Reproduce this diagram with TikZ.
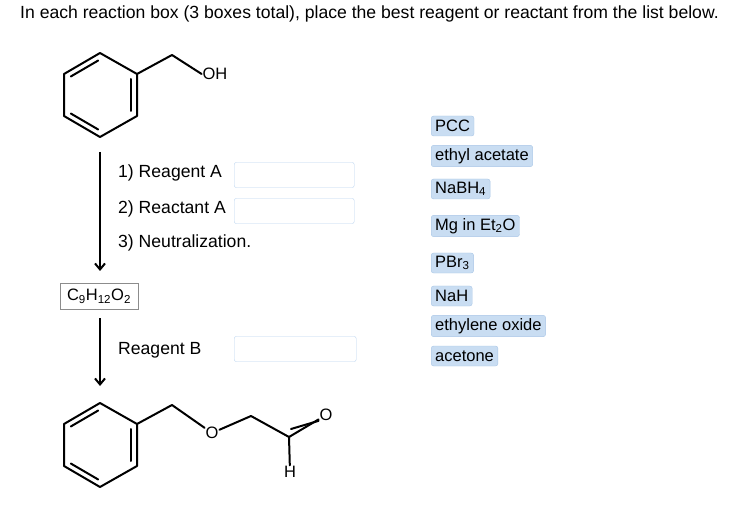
\documentclass[tikz,border=0pt]{standalone}
\usepackage{fontspec}
\setmainfont{Liberation Sans}
\usetikzlibrary{calc,arrows.meta}
\definecolor{chipfill}{HTML}{C9DDF2}
\definecolor{chipdraw}{HTML}{A9C6E6}
\definecolor{inbox}{HTML}{B9D3EE}
\newcommand{\sbs}[1]{\textsubscript{#1}}
\begin{document}
\begin{tikzpicture}[x=1pt,y=-1pt,
  txt/.style={anchor=west,inner sep=0,font=\fontsize{17.6}{20}\selectfont},
  chip/.style={anchor=west,fill=chipfill,draw=chipdraw,rounded corners=2.5,inner xsep=4,inner ysep=3,minimum height=20,font=\fontsize{16.5}{18}\selectfont},
  inp/.style={draw=inbox,rounded corners=2,minimum width=120,minimum height=25,anchor=west,inner sep=0},
  bond/.style={line width=2pt,line cap=round,line join=round},
  rxn/.style={line width=2pt,-{Straight Barb[length=6pt,width=10pt]}},
  atom/.style={inner sep=0.8,fill=white,font=\fontsize{16.5}{18}\selectfont}]
\useasboundingbox (0,0) rectangle (738,510);
\node[txt] (title) at (20,14) {In each reaction box (3 boxes total), place the best reagent or reactant from the list below.};
% top molecule
\coordinate (a1) at (100,53); \coordinate (a2) at (137,74); \coordinate (a3) at (137,116);
\coordinate (a4) at (100,137); \coordinate (a5) at (64,116); \coordinate (a6) at (64,74);
\draw[bond] (a1)--(a2)--(a3)--(a4)--(a5)--(a6)--cycle;
\draw[bond] ($(a6)!0.12!(a1)+(2.5,5)$)--($(a6)!0.88!(a1)+(2.5,5)$);
\draw[bond] (131,79)--(131,111);
\draw[bond] ($(a5)!0.12!(a4)+(2.5,-5)$)--($(a5)!0.88!(a4)+(2.5,-5)$);
\coordinate (c1) at (172,55);
\node[atom] (oh) at (215,74) {OH};
\draw[bond] (a2)--(c1)--(oh.west);
% arrows
\coordinate (s1) at (100,152); \coordinate (e1) at (100,271);
\draw[rxn] (s1)--(e1);
\node[draw=black!45,minimum width=78,minimum height=26,inner sep=0,font=\fontsize{16.5}{18}\selectfont] (f) at (99,296) {C\sbs{9}H\sbs{12}O\sbs{2}};
\coordinate (s2) at (100,318); \coordinate (e2) at (100,386);
\draw[rxn] (s2)--(e2);
\node[txt] (l1) at (118,173) {1) Reagent A};
\node[txt] (l2) at (118,209) {2) Reactant A};
\node[txt] (l3) at (118,243) {3) Neutralization.};
\node[txt] (l4) at (118,350) {Reagent B};
\node[inp] (b1) at (234,175) {};
\node[inp] (b2) at (234,211) {};
\node[inp,minimum width=122] (b3) at (234,349) {};
% chips
\node[chip] (p1) at (431,126) {PCC};
\node[chip] (p2) at (431,156) {ethyl acetate};
\node[chip] (p3) at (431,189) {NaBH\sbs{4}};
\node[chip] (p4) at (431,226) {Mg in Et\sbs{2}O};
\node[chip] (p5) at (431,263) {PBr\sbs{3}};
\node[chip] (p6) at (431,296) {NaH};
\node[chip] (p7) at (431,326) {ethylene oxide};
\node[chip] (p8) at (431,356) {acetone};
% bottom molecule
\coordinate (d1) at (100,403); \coordinate (d2) at (137,424); \coordinate (d3) at (137,466);
\coordinate (d4) at (100,487); \coordinate (d5) at (64,466); \coordinate (d6) at (64,424);
\draw[bond] (d1)--(d2)--(d3)--(d4)--(d5)--(d6)--cycle;
\draw[bond] ($(d6)!0.12!(d1)+(2.5,5)$)--($(d6)!0.88!(d1)+(2.5,5)$);
\draw[bond] (131,429)--(131,461);
\draw[bond] ($(d5)!0.12!(d4)+(2.5,-5)$)--($(d5)!0.88!(d4)+(2.5,-5)$);
\coordinate (g1) at (172,405);
\node[atom] (o1) at (212,433) {O};
\coordinate (g2) at (251,416);
\coordinate (g3) at (289,437);
\node[atom] (o2) at (326,415) {O};
\node[atom] (h) at (290,472) {H};
\draw[bond] (d2)--(g1)--(o1)--(g2)--(g3)--(h);
\draw[bond] (g3)--(o2);
\draw[bond] ($(g3)+(2,-8)$)--($(o2.south west)+(0,-1)$);
\end{tikzpicture}
\end{document}
